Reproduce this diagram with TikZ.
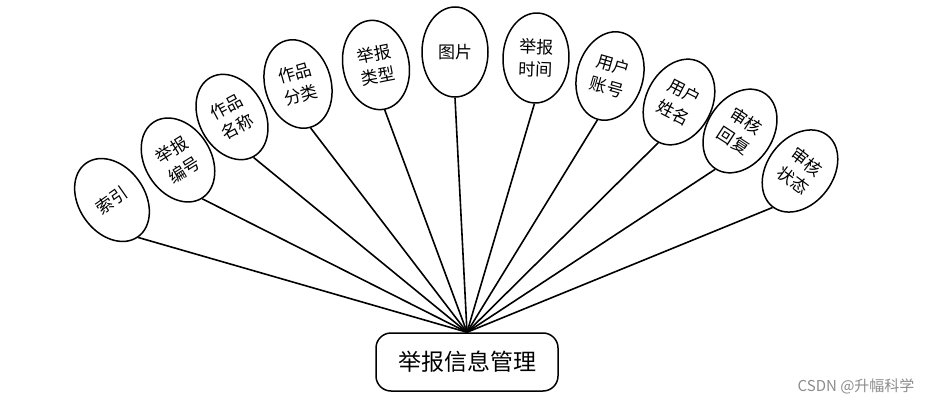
\documentclass[tikz,border=0pt]{standalone}
\usepackage{fontspec}
\setmainfont{Noto Sans CJK SC}
\usetikzlibrary{shapes.geometric,positioning}

\begin{document}
\begin{tikzpicture}[
    x=1pt, y=-1pt,
    attr/.style={ellipse, draw, line width=1.5pt, minimum width=66pt, minimum height=90pt, inner sep=0pt, align=center, font=\fontsize{17}{23}\selectfont},
    entity/.style={rectangle, draw, rounded corners=15pt, line width=1.5pt, minimum width=182pt, minimum height=58pt, font=\fontsize{23}{26}\selectfont},
    line/.style={line width=1.6pt}
]
    \useasboundingbox (0,0) rectangle (934,406);

    \node[entity] (report) at (467,362) {举报信息管理};

    \node[attr, rotate=35] (idx) at (112,200) {索引};
    \node[attr, rotate=32] (rno) at (178,160) {举报\\编号};
    \node[attr, rotate=28] (wname) at (232,117) {作品\\名称};
    \node[attr, rotate=16] (wcat) at (298,84) {作品\\分类};
    \node[attr, rotate=11] (rtype) at (376,65) {举报\\类型};
    \node[attr] (pic) at (455,52) {图片};
    \node[attr, rotate=-2] (rtime) at (536,58) {举报\\时间};
    \node[attr, rotate=-16] (uacc) at (610,76) {用户\\账号};
    \node[attr, rotate=-27] (uname) at (679,102) {用户\\姓名};
    \node[attr, rotate=-33] (reply) at (740,131) {审核\\回复};
    \node[attr, rotate=-37] (status) at (800,171) {审核\\状态};

    \foreach \n in {idx, rno, wname, wcat, rtype, pic, rtime, uacc, uname, reply, status}
        \draw[line] (report.north) -- (\n.south);

    \node[text=black!45, font=\fontsize{15}{17}\selectfont, anchor=east] (mark) at (918,386) {CSDN @升幅科学};
\end{tikzpicture}
\end{document}
